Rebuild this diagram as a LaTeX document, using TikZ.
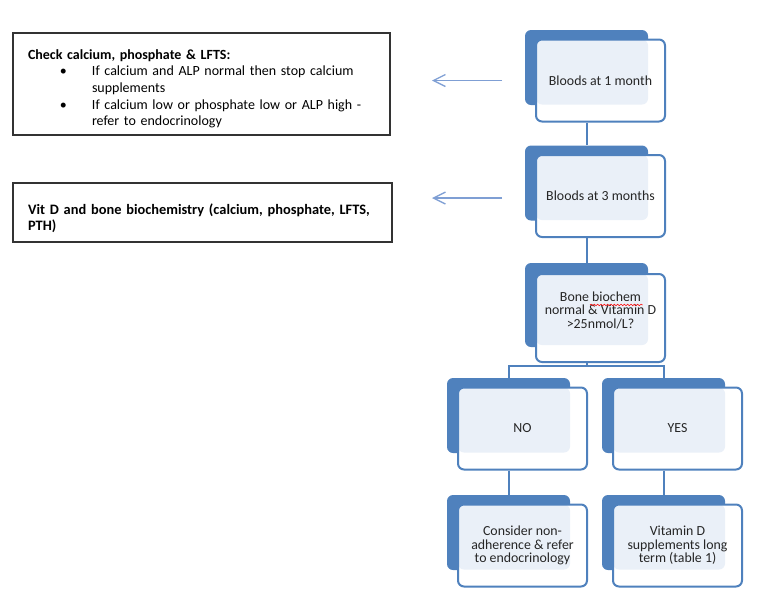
\documentclass[tikz,border=0pt]{standalone}
\usepackage{fontspec}
\setmainfont{Carlito}
\usepackage{xcolor}
\usepackage{tikz}
\usetikzlibrary{positioning, calc, arrows.meta, decorations.pathmorphing}
\definecolor{smartblue}{HTML}{4F81BD}
\definecolor{smartlight}{HTML}{EAF0F8}
\definecolor{arrowblue}{HTML}{7F9FD4}
\tikzstyle{backbox} = [rectangle, rounded corners=4.5pt, fill=smartblue, minimum width=92.25pt, minimum height=56.25pt]
\tikzstyle{frontbox} = [rectangle, rounded corners=4.5pt, draw=smartblue, line width=1.5pt, fill=white, minimum width=96.75pt, minimum height=61.5pt, text centered, align=center, text=black!85, font=\fontsize{10.4}{10.2}\selectfont,
  path picture={\fill[smartlight] (path picture bounding box.north west) rectangle ([xshift=-12.75pt,yshift=12.75pt]path picture bounding box.south east);}]
\tikzstyle{notebox} = [rectangle, draw=black!80, line width=1.1pt, align=left, inner xsep=11.25pt, font=\fontsize{10.5}{12.5}\selectfont]
\tikzstyle{link} = [smartblue, line width=1.5pt]
\tikzstyle{arrow} = [arrowblue, line width=1pt, ->, >={Straight Barb[length=9pt,width=9pt]}]

\begin{document}
\begin{tikzpicture}[x=0.75pt, y=-0.75pt]
		\useasboundingbox (0,0) rectangle (768,608);
		% stacked boxes
		\node (blood1b) [backbox] at (586.5,67.5) {};
		\node (blood1) [frontbox, xshift=10.5pt, yshift=-9.75pt] at (blood1b) {Bloods at 1 month};
		\node (blood2b) [backbox] at (586.5,183) {};
		\node (blood2) [frontbox, xshift=10.5pt, yshift=-9.75pt] at (blood2b) {Bloods at 3 months};
		\node (dec1b) [backbox, minimum height=63pt] at (586.5,305) {};
		\node (dec1) [frontbox, minimum height=66pt, xshift=10.5pt, yshift=-9.75pt] at (dec1b) {\raisebox{4.5pt}[\height][\depth]{\begin{tabular}{@{}c@{}}Bone biochem\\ normal \& Vitamin D\\ >25nmol/L?\end{tabular}}};
		\node (nob) [backbox] at (508.5,415.5) {};
		\node (no) [frontbox, xshift=10.5pt, yshift=-9.75pt] at (nob) {NO};
		\node (yesb) [backbox] at (663.5,415.5) {};
		\node (yes) [frontbox, xshift=10.5pt, yshift=-9.75pt] at (yesb) {YES};
		\node (stop1b) [backbox] at (508.5,532.5) {};
		\node (stop1) [frontbox, xshift=10.5pt, yshift=-9.75pt] at (stop1b) {Consider non-\\ adherence \& refer\\ to endocrinology};
		\node (stop2b) [backbox] at (663.5,532.5) {};
		\node (stop2) [frontbox, xshift=10.5pt, yshift=-9.75pt] at (stop2b) {Vitamin D\\ supplements long\\ term (table 1)};
		
		% notes on the left
		\node (check) [notebox, minimum width=282.75pt, minimum height=76.5pt, text width=260.25pt] at (201.5,84) {\rule{0pt}{14.5pt}\textbf{Check calcium, phosphate \& LFTS:}\\
			\hspace*{24pt}\makebox[24pt][l]{\textbullet}If calcium and ALP normal then stop calcium\\
			\hspace*{48pt}supplements\\
			\hspace*{24pt}\makebox[24pt][l]{\textbullet}If calcium low or phosphate low or ALP high -\\
			\hspace*{48pt}refer to endocrinology};
		\node (vitd) [notebox, font=\fontsize{10.8}{12.2}\selectfont, minimum width=284.25pt, minimum height=44.25pt, text width=261.75pt] at (202.5,212.5) {\rule{0pt}{17pt}\textbf{Vit D and bone biochemistry (calcium, phosphate, LFTS,}\\ \textbf{PTH)}};
		
		% connectors
		\draw [link](blood1b |- blood1.south) -- (blood2b.north);
		\draw [link](blood2b |- blood2.south) -- (dec1b.north);
		\coordinate (split) at (586.5,366);
		\draw [link](dec1b |- dec1.south) -- (split) -| (nob.north);
		\draw [link](split) -| (yesb.north);
		\draw [link](nob |- no.south) -- (stop1b.north);
		\draw [link](yesb |- yes.south) -- (stop2b.north);
		\draw [arrow]([xshift=-24.75pt]blood1.west) -- ++(-70,0);
		\draw [arrow]([xshift=-24.75pt,yshift=-1.5pt]blood2.west) -- ++(-70,0);
		% spelling mark
		\draw [red, line width=0.4pt, decorate, decoration={snake, amplitude=0.6pt, segment length=2.5pt}]([xshift=-7.9pt,yshift=9.8pt]dec1.center) -- ++(53,0);
	\end{tikzpicture}
\end{document}
